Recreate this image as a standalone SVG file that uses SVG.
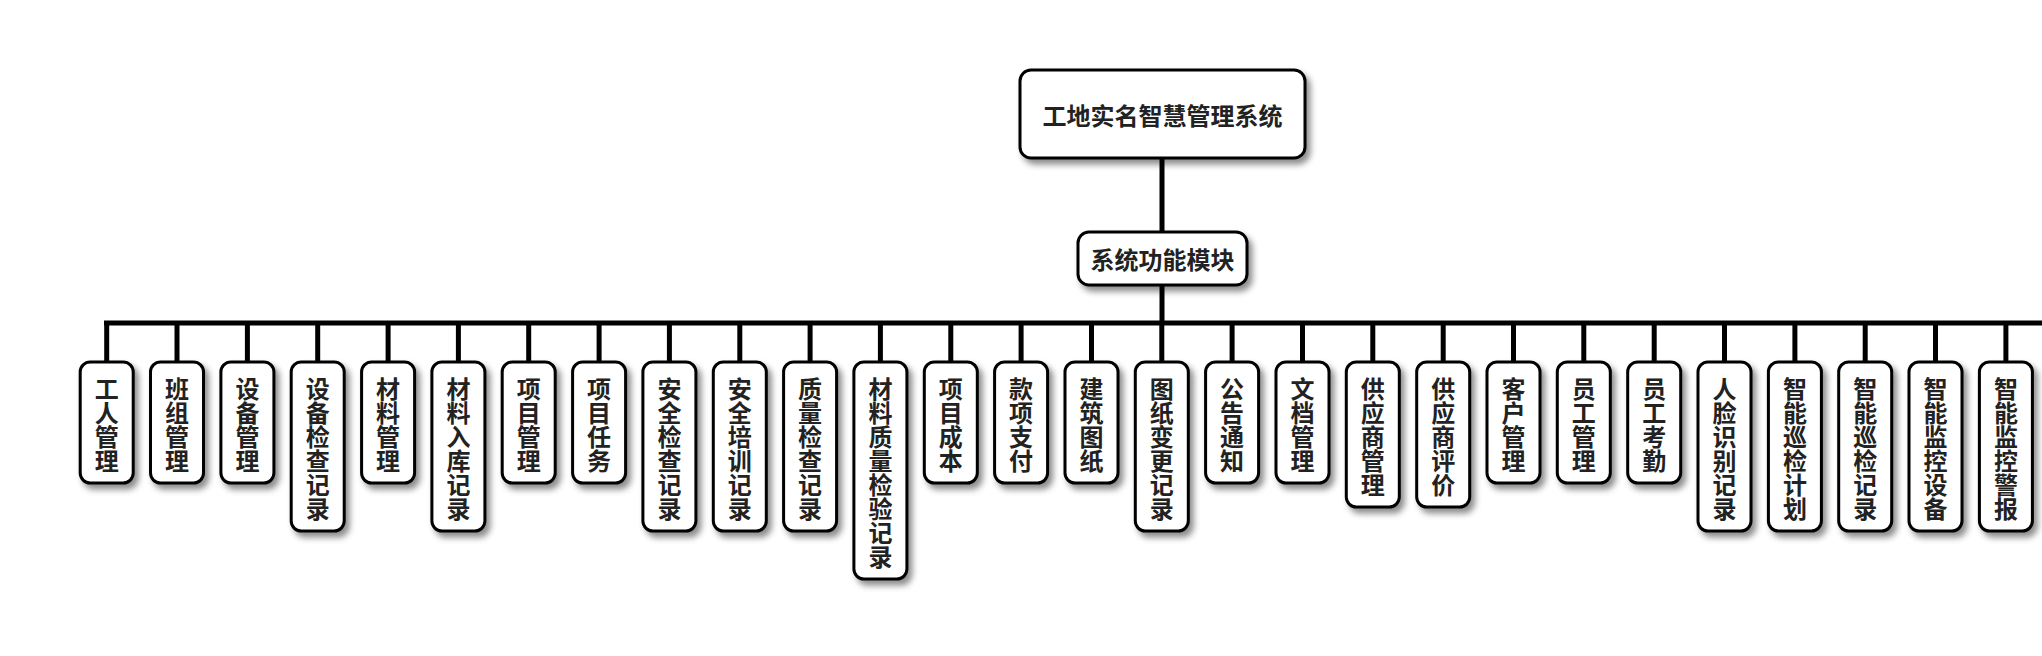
<svg xmlns="http://www.w3.org/2000/svg" width="2042" height="656" viewBox="0 0 2042 656">
<defs>
<filter id="sh" x="-30%" y="-30%" width="160%" height="160%">
<feDropShadow dx="4" dy="5" stdDeviation="3" flood-color="#000" flood-opacity="0.45"/>
</filter>
<style>
.box{fill:#fff;stroke:#000;stroke-width:3;filter:url(#sh)}
.t{font-family:"Noto Sans CJK SC","Noto Sans",sans-serif;font-weight:bold;font-size:24px;fill:#222;text-anchor:middle;dominant-baseline:central}
.ln{stroke:#000;stroke-width:5;fill:none}
</style>
</defs>
<rect width="2042" height="656" fill="#fff"/>
<g id="connectors">
<path class="ln" d="M1162 158V232M1162 285V323M104 323H2042"/>
<path class="ln" d="M106.7 323V362M177 323V362M247.4 323V362M317.7 323V362M388.1 323V362M458.4 323V362M528.7 323V362M599.1 323V362M669.4 323V362M739.8 323V362M810.1 323V362M880.4 323V362M950.8 323V362M1021.1 323V362M1091.5 323V362M1161.8 323V362M1232.1 323V362M1302.5 323V362M1372.8 323V362M1443.2 323V362M1513.5 323V362M1583.8 323V362M1654.2 323V362M1724.5 323V362M1794.9 323V362M1865.2 323V362M1935.5 323V362M2005.9 323V362"/>
</g>
<g id="root"><rect class="box" x="1020" y="70" width="285" height="88" rx="11"/><text class="t" x="1162.5" y="114">工地实名智慧管理系统</text></g>
<g id="modules"><rect class="box" x="1078" y="232" width="169" height="53" rx="11"/><text class="t" x="1162.5" y="258.5">系统功能模块</text></g>
<g id="n0"><rect class="box" x="80.2" y="362" width="53" height="121" rx="10"/><text class="t" x="106.7" y="363"><tspan x="106.7" dy="24">工</tspan><tspan x="106.7" dy="24">人</tspan><tspan x="106.7" dy="24">管</tspan><tspan x="106.7" dy="24">理</tspan></text></g>
<g id="n1"><rect class="box" x="150.5" y="362" width="53" height="121" rx="10"/><text class="t" x="177" y="363"><tspan x="177" dy="24">班</tspan><tspan x="177" dy="24">组</tspan><tspan x="177" dy="24">管</tspan><tspan x="177" dy="24">理</tspan></text></g>
<g id="n2"><rect class="box" x="220.9" y="362" width="53" height="121" rx="10"/><text class="t" x="247.4" y="363"><tspan x="247.4" dy="24">设</tspan><tspan x="247.4" dy="24">备</tspan><tspan x="247.4" dy="24">管</tspan><tspan x="247.4" dy="24">理</tspan></text></g>
<g id="n3"><rect class="box" x="291.2" y="362" width="53" height="169" rx="10"/><text class="t" x="317.7" y="363"><tspan x="317.7" dy="24">设</tspan><tspan x="317.7" dy="24">备</tspan><tspan x="317.7" dy="24">检</tspan><tspan x="317.7" dy="24">查</tspan><tspan x="317.7" dy="24">记</tspan><tspan x="317.7" dy="24">录</tspan></text></g>
<g id="n4"><rect class="box" x="361.6" y="362" width="53" height="121" rx="10"/><text class="t" x="388.1" y="363"><tspan x="388.1" dy="24">材</tspan><tspan x="388.1" dy="24">料</tspan><tspan x="388.1" dy="24">管</tspan><tspan x="388.1" dy="24">理</tspan></text></g>
<g id="n5"><rect class="box" x="431.9" y="362" width="53" height="169" rx="10"/><text class="t" x="458.4" y="363"><tspan x="458.4" dy="24">材</tspan><tspan x="458.4" dy="24">料</tspan><tspan x="458.4" dy="24">入</tspan><tspan x="458.4" dy="24">库</tspan><tspan x="458.4" dy="24">记</tspan><tspan x="458.4" dy="24">录</tspan></text></g>
<g id="n6"><rect class="box" x="502.2" y="362" width="53" height="121" rx="10"/><text class="t" x="528.7" y="363"><tspan x="528.7" dy="24">项</tspan><tspan x="528.7" dy="24">目</tspan><tspan x="528.7" dy="24">管</tspan><tspan x="528.7" dy="24">理</tspan></text></g>
<g id="n7"><rect class="box" x="572.6" y="362" width="53" height="121" rx="10"/><text class="t" x="599.1" y="363"><tspan x="599.1" dy="24">项</tspan><tspan x="599.1" dy="24">目</tspan><tspan x="599.1" dy="24">任</tspan><tspan x="599.1" dy="24">务</tspan></text></g>
<g id="n8"><rect class="box" x="642.9" y="362" width="53" height="169" rx="10"/><text class="t" x="669.4" y="363"><tspan x="669.4" dy="24">安</tspan><tspan x="669.4" dy="24">全</tspan><tspan x="669.4" dy="24">检</tspan><tspan x="669.4" dy="24">查</tspan><tspan x="669.4" dy="24">记</tspan><tspan x="669.4" dy="24">录</tspan></text></g>
<g id="n9"><rect class="box" x="713.3" y="362" width="53" height="169" rx="10"/><text class="t" x="739.8" y="363"><tspan x="739.8" dy="24">安</tspan><tspan x="739.8" dy="24">全</tspan><tspan x="739.8" dy="24">培</tspan><tspan x="739.8" dy="24">训</tspan><tspan x="739.8" dy="24">记</tspan><tspan x="739.8" dy="24">录</tspan></text></g>
<g id="n10"><rect class="box" x="783.6" y="362" width="53" height="169" rx="10"/><text class="t" x="810.1" y="363"><tspan x="810.1" dy="24">质</tspan><tspan x="810.1" dy="24">量</tspan><tspan x="810.1" dy="24">检</tspan><tspan x="810.1" dy="24">查</tspan><tspan x="810.1" dy="24">记</tspan><tspan x="810.1" dy="24">录</tspan></text></g>
<g id="n11"><rect class="box" x="853.9" y="362" width="53" height="217" rx="10"/><text class="t" x="880.4" y="363"><tspan x="880.4" dy="24">材</tspan><tspan x="880.4" dy="24">料</tspan><tspan x="880.4" dy="24">质</tspan><tspan x="880.4" dy="24">量</tspan><tspan x="880.4" dy="24">检</tspan><tspan x="880.4" dy="24">验</tspan><tspan x="880.4" dy="24">记</tspan><tspan x="880.4" dy="24">录</tspan></text></g>
<g id="n12"><rect class="box" x="924.3" y="362" width="53" height="121" rx="10"/><text class="t" x="950.8" y="363"><tspan x="950.8" dy="24">项</tspan><tspan x="950.8" dy="24">目</tspan><tspan x="950.8" dy="24">成</tspan><tspan x="950.8" dy="24">本</tspan></text></g>
<g id="n13"><rect class="box" x="994.6" y="362" width="53" height="121" rx="10"/><text class="t" x="1021.1" y="363"><tspan x="1021.1" dy="24">款</tspan><tspan x="1021.1" dy="24">项</tspan><tspan x="1021.1" dy="24">支</tspan><tspan x="1021.1" dy="24">付</tspan></text></g>
<g id="n14"><rect class="box" x="1065" y="362" width="53" height="121" rx="10"/><text class="t" x="1091.5" y="363"><tspan x="1091.5" dy="24">建</tspan><tspan x="1091.5" dy="24">筑</tspan><tspan x="1091.5" dy="24">图</tspan><tspan x="1091.5" dy="24">纸</tspan></text></g>
<g id="n15"><rect class="box" x="1135.3" y="362" width="53" height="169" rx="10"/><text class="t" x="1161.8" y="363"><tspan x="1161.8" dy="24">图</tspan><tspan x="1161.8" dy="24">纸</tspan><tspan x="1161.8" dy="24">变</tspan><tspan x="1161.8" dy="24">更</tspan><tspan x="1161.8" dy="24">记</tspan><tspan x="1161.8" dy="24">录</tspan></text></g>
<g id="n16"><rect class="box" x="1205.6" y="362" width="53" height="121" rx="10"/><text class="t" x="1232.1" y="363"><tspan x="1232.1" dy="24">公</tspan><tspan x="1232.1" dy="24">告</tspan><tspan x="1232.1" dy="24">通</tspan><tspan x="1232.1" dy="24">知</tspan></text></g>
<g id="n17"><rect class="box" x="1276" y="362" width="53" height="121" rx="10"/><text class="t" x="1302.5" y="363"><tspan x="1302.5" dy="24">文</tspan><tspan x="1302.5" dy="24">档</tspan><tspan x="1302.5" dy="24">管</tspan><tspan x="1302.5" dy="24">理</tspan></text></g>
<g id="n18"><rect class="box" x="1346.3" y="362" width="53" height="145" rx="10"/><text class="t" x="1372.8" y="363"><tspan x="1372.8" dy="24">供</tspan><tspan x="1372.8" dy="24">应</tspan><tspan x="1372.8" dy="24">商</tspan><tspan x="1372.8" dy="24">管</tspan><tspan x="1372.8" dy="24">理</tspan></text></g>
<g id="n19"><rect class="box" x="1416.7" y="362" width="53" height="145" rx="10"/><text class="t" x="1443.2" y="363"><tspan x="1443.2" dy="24">供</tspan><tspan x="1443.2" dy="24">应</tspan><tspan x="1443.2" dy="24">商</tspan><tspan x="1443.2" dy="24">评</tspan><tspan x="1443.2" dy="24">价</tspan></text></g>
<g id="n20"><rect class="box" x="1487" y="362" width="53" height="121" rx="10"/><text class="t" x="1513.5" y="363"><tspan x="1513.5" dy="24">客</tspan><tspan x="1513.5" dy="24">户</tspan><tspan x="1513.5" dy="24">管</tspan><tspan x="1513.5" dy="24">理</tspan></text></g>
<g id="n21"><rect class="box" x="1557.3" y="362" width="53" height="121" rx="10"/><text class="t" x="1583.8" y="363"><tspan x="1583.8" dy="24">员</tspan><tspan x="1583.8" dy="24">工</tspan><tspan x="1583.8" dy="24">管</tspan><tspan x="1583.8" dy="24">理</tspan></text></g>
<g id="n22"><rect class="box" x="1627.7" y="362" width="53" height="121" rx="10"/><text class="t" x="1654.2" y="363"><tspan x="1654.2" dy="24">员</tspan><tspan x="1654.2" dy="24">工</tspan><tspan x="1654.2" dy="24">考</tspan><tspan x="1654.2" dy="24">勤</tspan></text></g>
<g id="n23"><rect class="box" x="1698" y="362" width="53" height="169" rx="10"/><text class="t" x="1724.5" y="363"><tspan x="1724.5" dy="24">人</tspan><tspan x="1724.5" dy="24">脸</tspan><tspan x="1724.5" dy="24">识</tspan><tspan x="1724.5" dy="24">别</tspan><tspan x="1724.5" dy="24">记</tspan><tspan x="1724.5" dy="24">录</tspan></text></g>
<g id="n24"><rect class="box" x="1768.4" y="362" width="53" height="169" rx="10"/><text class="t" x="1794.9" y="363"><tspan x="1794.9" dy="24">智</tspan><tspan x="1794.9" dy="24">能</tspan><tspan x="1794.9" dy="24">巡</tspan><tspan x="1794.9" dy="24">检</tspan><tspan x="1794.9" dy="24">计</tspan><tspan x="1794.9" dy="24">划</tspan></text></g>
<g id="n25"><rect class="box" x="1838.7" y="362" width="53" height="169" rx="10"/><text class="t" x="1865.2" y="363"><tspan x="1865.2" dy="24">智</tspan><tspan x="1865.2" dy="24">能</tspan><tspan x="1865.2" dy="24">巡</tspan><tspan x="1865.2" dy="24">检</tspan><tspan x="1865.2" dy="24">记</tspan><tspan x="1865.2" dy="24">录</tspan></text></g>
<g id="n26"><rect class="box" x="1909" y="362" width="53" height="169" rx="10"/><text class="t" x="1935.5" y="363"><tspan x="1935.5" dy="24">智</tspan><tspan x="1935.5" dy="24">能</tspan><tspan x="1935.5" dy="24">监</tspan><tspan x="1935.5" dy="24">控</tspan><tspan x="1935.5" dy="24">设</tspan><tspan x="1935.5" dy="24">备</tspan></text></g>
<g id="n27"><rect class="box" x="1979.4" y="362" width="53" height="169" rx="10"/><text class="t" x="2005.9" y="363"><tspan x="2005.9" dy="24">智</tspan><tspan x="2005.9" dy="24">能</tspan><tspan x="2005.9" dy="24">监</tspan><tspan x="2005.9" dy="24">控</tspan><tspan x="2005.9" dy="24">警</tspan><tspan x="2005.9" dy="24">报</tspan></text></g>
</svg>
